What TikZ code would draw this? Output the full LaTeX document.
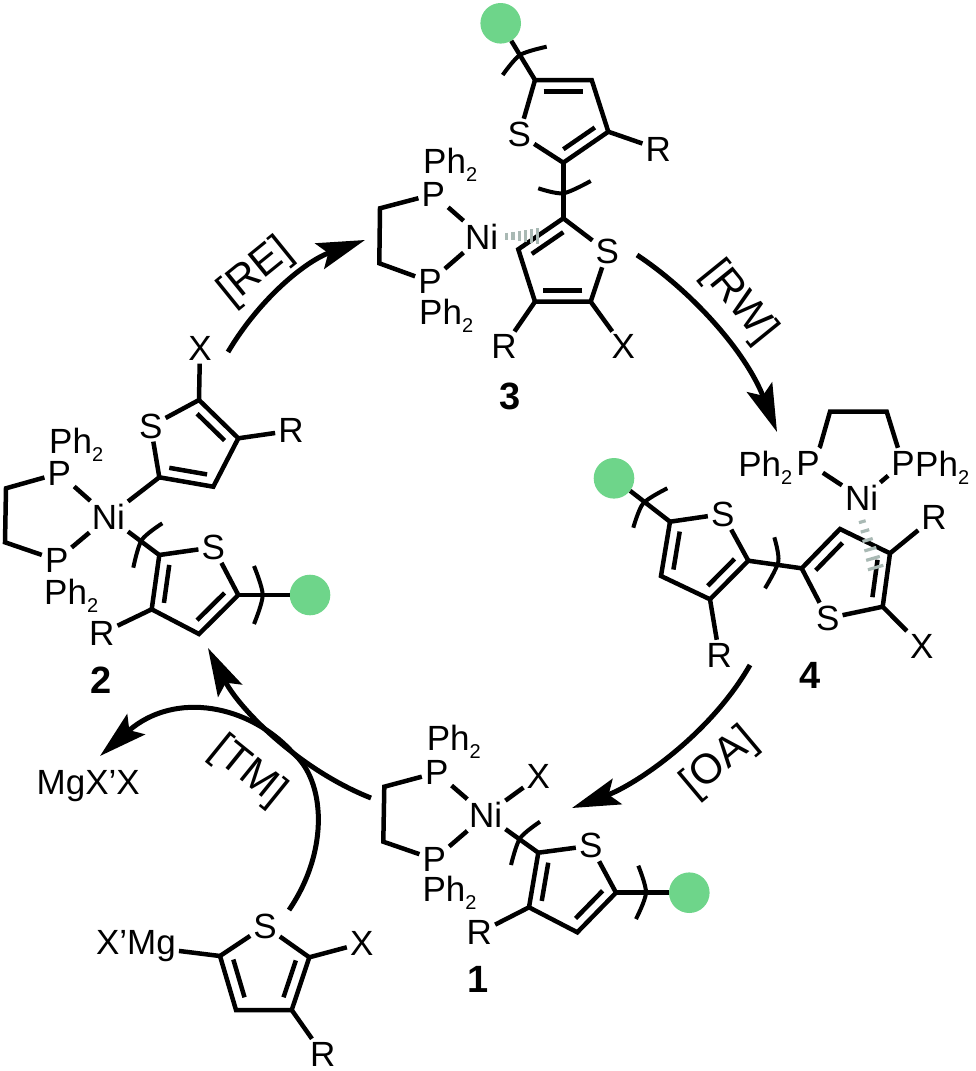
\documentclass[tikz,border=0pt]{standalone}
\usepackage{fontspec}
\setmainfont{Liberation Sans}
\usetikzlibrary{arrows.meta,calc}

\definecolor{endgroup}{HTML}{6ED58A}
\definecolor{hashgray}{HTML}{A9B9B4}

\tikzset{
  bond/.style={line width=4.5pt},
  brace/.style={line width=4pt},
  cycle/.style={line width=5pt, -{Stealth[length=48pt,width=27pt,inset=9pt]}},
  atom/.style={font=\fontsize{35}{40}\selectfont, inner sep=3pt},
  ligand/.style={font=\fontsize{35}{40}\selectfont, inner sep=0pt},
  steplabel/.style={font=\fontsize{42}{46}\selectfont, inner sep=0pt},
  numlabel/.style={font=\fontsize{38}{42}\selectfont\bfseries, inner sep=0pt},
}

\newcommand{\Phtwo}{Ph\raisebox{-8pt}{\fontsize{20}{20}\selectfont 2}}
% inner line of a double bond, pulled towards the ring centre
\newcommand{\dbl}[3]{\draw[bond] ($(#1)!.3!(#3)$) -- ($(#2)!.3!(#3)$);}
\newcommand{\hashbond}[2]{
  \foreach \t/\w in {0/3.5,.167/4.4,.333/5.3,.5/6.2,.667/7.1,.833/8,1/8.9}
    \draw[line width=3.2pt, hashgray] ($(#1)!\t!(#2)!\w pt!90:(#2)$) -- ($(#1)!\t!(#2)!\w pt!-90:(#2)$);
}

\begin{document}
\begin{tikzpicture}[x=1pt,y=-1pt]
  \useasboundingbox (0,0) rectangle (976,1071);

  % complex 3
  \foreach \n/\x/\y in {a/535/80, b/591.7/80, c/608.3/131.7, d/563.3/162.7, m/563.4/117.8,
                        e/563.3/218.3, f/590.7/301.7, g/535/301.7, h/518.3/249.3, k/563.3/264.6,
                        u/380/208.3, v/379.3/263.3, q/506.7/236, w/544/236}
    \coordinate (t\n) at (\x,\y);
  \node[circle, fill=endgroup, minimum size=40.6pt, inner sep=0pt] (dot3) at (500.7,23.3) {};
  \node[atom] (s3a) at (519.3,134.3) {S};
  \node[atom] (r3a) at (658.3,149) {R};
  \node[atom] (s3b) at (607.3,251.7) {S};
  \node[atom] (r3b) at (504,346.7) {R};
  \node[atom] (x3) at (623.3,346.7) {X};
  \node[atom] (ni3) at (481.7,236.7) {Ni};
  \node[atom] (pa3) at (433.3,194.3) {P};
  \node[atom] (pb3) at (430,281.7) {P};
  \node[ligand, anchor=base west] (pha3) at (423,173) {\Phtwo};
  \node[ligand, anchor=base west] (phb3) at (419,324) {\Phtwo};
  \node[numlabel] (n3) at (510,396.7) {3};
  \draw[bond] (dot3) -- (ta);
  \draw[bond] (s3a) -- (ta) -- (tb) -- (tc) -- (td) -- (s3a);
  \dbl{ta}{tb}{tm}
  \dbl{tc}{td}{tm}
  \draw[bond] (tc) -- (r3a);
  \draw[bond] (td) -- (te);
  \draw[bond] (s3b) -- (te) -- (th) -- (tg) -- (tf) -- (s3b);
  \dbl{te}{th}{tk}
  \dbl{tf}{tg}{tk}
  \draw[bond] (tg) -- (r3b);
  \draw[bond] (tf) -- (x3);
  \draw[bond] (pa3) -- (tu) -- (tv) -- (pb3);
  \draw[bond] (pa3) -- (ni3) -- (pb3);
  \draw[brace] plot[smooth] coordinates {(502.7,75) (520,55) (546.7,46.7)};
  \draw[brace] plot[smooth] coordinates {(538.3,188.3) (563.3,193.3) (590.7,181)};
  \hashbond{tq}{tw}

  % complex 4
  \foreach \n/\x/\y in {a/670/521.7, b/748.3/560.7, c/710/599.3, d/661/576, m/702.4/554.6,
                        e/801.7/568.3, f/840/529, g/890/553.3, h/882.7/606.7, k/848.4/575,
                        u/820/446.7, v/830/411.7, w/886.7/411.7, y/896.7/444, q/862.3/521.7, z/878.3/576.7}
    \coordinate (f\n) at (\x,\y);
  \node[circle, fill=endgroup, minimum size=40.6pt, inner sep=0pt] (dot4) at (614,478.3) {};
  \node[atom] (s4a) at (722.7,514) {S};
  \node[atom] (r4a) at (719.3,655) {R};
  \node[atom] (s4b) at (827.7,618.3) {S};
  \node[atom] (r4b) at (934,517.3) {R};
  \node[atom] (x4) at (921.7,646) {X};
  \node[atom] (ni4) at (861.7,498.3) {Ni};
  \node[atom] (pa4) at (808,463) {P};
  \node[atom] (pb4) at (903,463) {P};
  \node[ligand, anchor=base east] (pha4) at (792.5,476) {\Phtwo};
  \node[ligand, anchor=base west] (phb4) at (915,476) {\Phtwo};
  \node[numlabel] (n4) at (810,675) {4};
  \draw[bond] (dot4) -- (fa);
  \draw[bond] (s4a) -- (fa) -- (fd) -- (fc) -- (fb) -- (s4a);
  \dbl{fa}{fd}{fm}
  \dbl{fb}{fc}{fm}
  \draw[bond] (fc) -- (r4a);
  \draw[bond] (fb) -- (fe);
  \draw[bond] (s4b) -- (fe) -- (ff) -- (fg) -- (fh) -- (s4b);
  \dbl{fe}{ff}{fk}
  \dbl{fg}{fh}{fk}
  \draw[bond] (fg) -- (r4b);
  \draw[bond] (fh) -- (x4);
  \draw[bond] (pa4) -- (fu) -- (fv) -- (fw) -- (fy) -- (pb4);
  \draw[bond] (pa4) -- (ni4) -- (pb4);
  \draw[brace] plot[smooth] coordinates {(667.3,488.3) (643.3,503.3) (633.3,527.7)};
  \draw[brace] plot[smooth] coordinates {(774.3,537.3) (778.3,561.7) (765,588.3)};
  \hashbond{fq}{fz}

  % complex 2
  \foreach \n/\x/\y in {a/199/400, b/238.3/438.3, c/213.3/486.7, d/159.3/477.3, m/192.5/445.7,
                        e/159.3/555, f/238.3/595, g/199/634, h/151.7/609.3, k/192.5/588,
                        u/6/488.3, v/5/542.3}
    \coordinate (s\n) at (\x,\y);
  \node[circle, fill=endgroup, minimum size=40.6pt, inner sep=0pt] (dot2) at (310,595) {};
  \node[atom] (x2) at (200,348.3) {X};
  \node[atom] (s2a) at (150.7,426) {S};
  \node[atom] (r2a) at (291,430.7) {R};
  \node[atom] (s2b) at (213.3,547.3) {S};
  \node[atom] (r2b) at (101.7,633.3) {R};
  \node[atom] (ni2) at (108.3,516.7) {Ni};
  \node[atom] (pa2) at (59.3,473.3) {P};
  \node[atom] (pb2) at (56.7,560) {P};
  \node[ligand, anchor=base west] (pha2) at (49,453.3) {\Phtwo};
  \node[ligand, anchor=base west] (phb2) at (44,604.3) {\Phtwo};
  \node[numlabel] (n2) at (101,680) {2};
  \draw[bond] (x2) -- (sa);
  \draw[bond] (s2a) -- (sa) -- (sb) -- (sc) -- (sd) -- (s2a);
  \dbl{sa}{sb}{sm}
  \dbl{sc}{sd}{sm}
  \draw[bond] (sb) -- (r2a);
  \draw[bond] (ni2) -- (sd);
  \draw[bond] (ni2) -- (se);
  \draw[bond] (s2b) -- (se) -- (sh) -- (sg) -- (sf) -- (s2b);
  \dbl{se}{sh}{sk}
  \dbl{sf}{sg}{sk}
  \draw[bond] (sh) -- (r2b);
  \draw[bond] (sf) -- (dot2);
  \draw[bond] (pa2) -- (su) -- (sv) -- (pb2);
  \draw[bond] (pa2) -- (ni2) -- (pb2);
  \draw[brace] plot[smooth] coordinates {(162.3,523.3) (141.7,540) (133.3,567.7)};
  \draw[brace] plot[smooth] coordinates {(254,566) (262.7,595) (254,624)};

  % complex 1
  \foreach \n/\x/\y in {e/538.3/852.7, f/616/892.7, g/577.3/932.3, h/529/907.3, k/571.5/886,
                        u/384.3/786.7, v/383.3/841.7}
    \coordinate (o\n) at (\x,\y);
  \node[circle, fill=endgroup, minimum size=40.6pt, inner sep=0pt] (dot1) at (689.3,892.7) {};
  \node[atom] (x1) at (538.3,776.7) {X};
  \node[atom] (s1) at (590.7,845.7) {S};
  \node[atom] (r1) at (479.3,932.7) {R};
  \node[atom] (ni1) at (485.7,815) {Ni};
  \node[atom] (pa1) at (436.7,772.7) {P};
  \node[atom] (pb1) at (434.3,859.3) {P};
  \node[ligand, anchor=base west] (pha1) at (426.6,750.7) {\Phtwo};
  \node[ligand, anchor=base west] (phb1) at (422.3,901) {\Phtwo};
  \node[numlabel] (n1) at (478.3,979.3) {1};
  \draw[bond] (ni1) -- (x1);
  \draw[bond] (ni1) -- (oe);
  \draw[bond] (s1) -- (oe) -- (oh) -- (og) -- (of) -- (s1);
  \dbl{oe}{oh}{ok}
  \dbl{of}{og}{ok}
  \draw[bond] (oh) -- (r1);
  \draw[bond] (of) -- (dot1);
  \draw[bond] (pa1) -- (ou) -- (ov) -- (pb1);
  \draw[bond] (pa1) -- (ni1) -- (pb1);
  \draw[brace] plot[smooth] coordinates {(540,821.7) (520,838.3) (511,865)};
  \draw[brace] plot[smooth] coordinates {(638.3,865.7) (646,892.7) (636,919)};

  % monomer
  \foreach \n/\x/\y in {a/220/956, b/236/1010, c/291.7/1010, d/309.3/957.3, m/264.4/967.7}
    \coordinate (b\n) at (\x,\y);
  \node[atom] (s0) at (265,926) {S};
  \node[atom, anchor=base east] (mg0) at (179,954) {X’Mg};
  \node[atom] (x0) at (361.7,943.3) {X};
  \node[atom] (r0) at (322.7,1054) {R};
  \node[ligand, anchor=base west] (salt) at (36.5,794) {MgX’X};
  \draw[bond] (s0) -- (ba) -- (bb) -- (bc) -- (bd) -- (s0);
  \dbl{ba}{bb}{bm}
  \dbl{bc}{bd}{bm}
  \draw[bond] (mg0) -- (ba);
  \draw[bond] (bd) -- (x0);
  \draw[bond] (bc) -- (r0);

  % catalytic cycle
  \coordinate (reS) at (228,352);   \coordinate (reE) at (365,240);
  \coordinate (rwS) at (637,255);   \coordinate (rwE) at (777,432);
  \coordinate (oaS) at (750,665);   \coordinate (oaE) at (572,808);
  \coordinate (tmS) at (371,798);   \coordinate (tmE) at (208,648);
  \coordinate (mgS) at (289,910);   \coordinate (mgM) at (293,753);   \coordinate (mgE) at (100,756);
  \draw[cycle] (reS) .. controls (260,298) and (306,261) .. (reE);
  \draw[cycle] (rwS) .. controls (690,290) and (745,350) .. (rwE);
  \draw[cycle] (oaS) .. controls (710,735) and (635,785) .. (oaE);
  \draw[cycle] (tmS) .. controls (300,770) and (240,710) .. (tmE);
  \draw[cycle] (mgS) .. controls (330,850) and (325,780) .. (mgM)
                     .. controls (250,705) and (175,690) .. (mgE);
  \node[steplabel, rotate=39] (re) at (256,272) {[RE]};
  \node[steplabel, rotate=-51] (rw) at (739,303) {[RW]};
  \node[steplabel, rotate=40] (oa) at (720,763) {[OA]};
  \node[steplabel, rotate=-39] (tm) at (247.5,771.7) {[TM]};
\end{tikzpicture}
\end{document}
